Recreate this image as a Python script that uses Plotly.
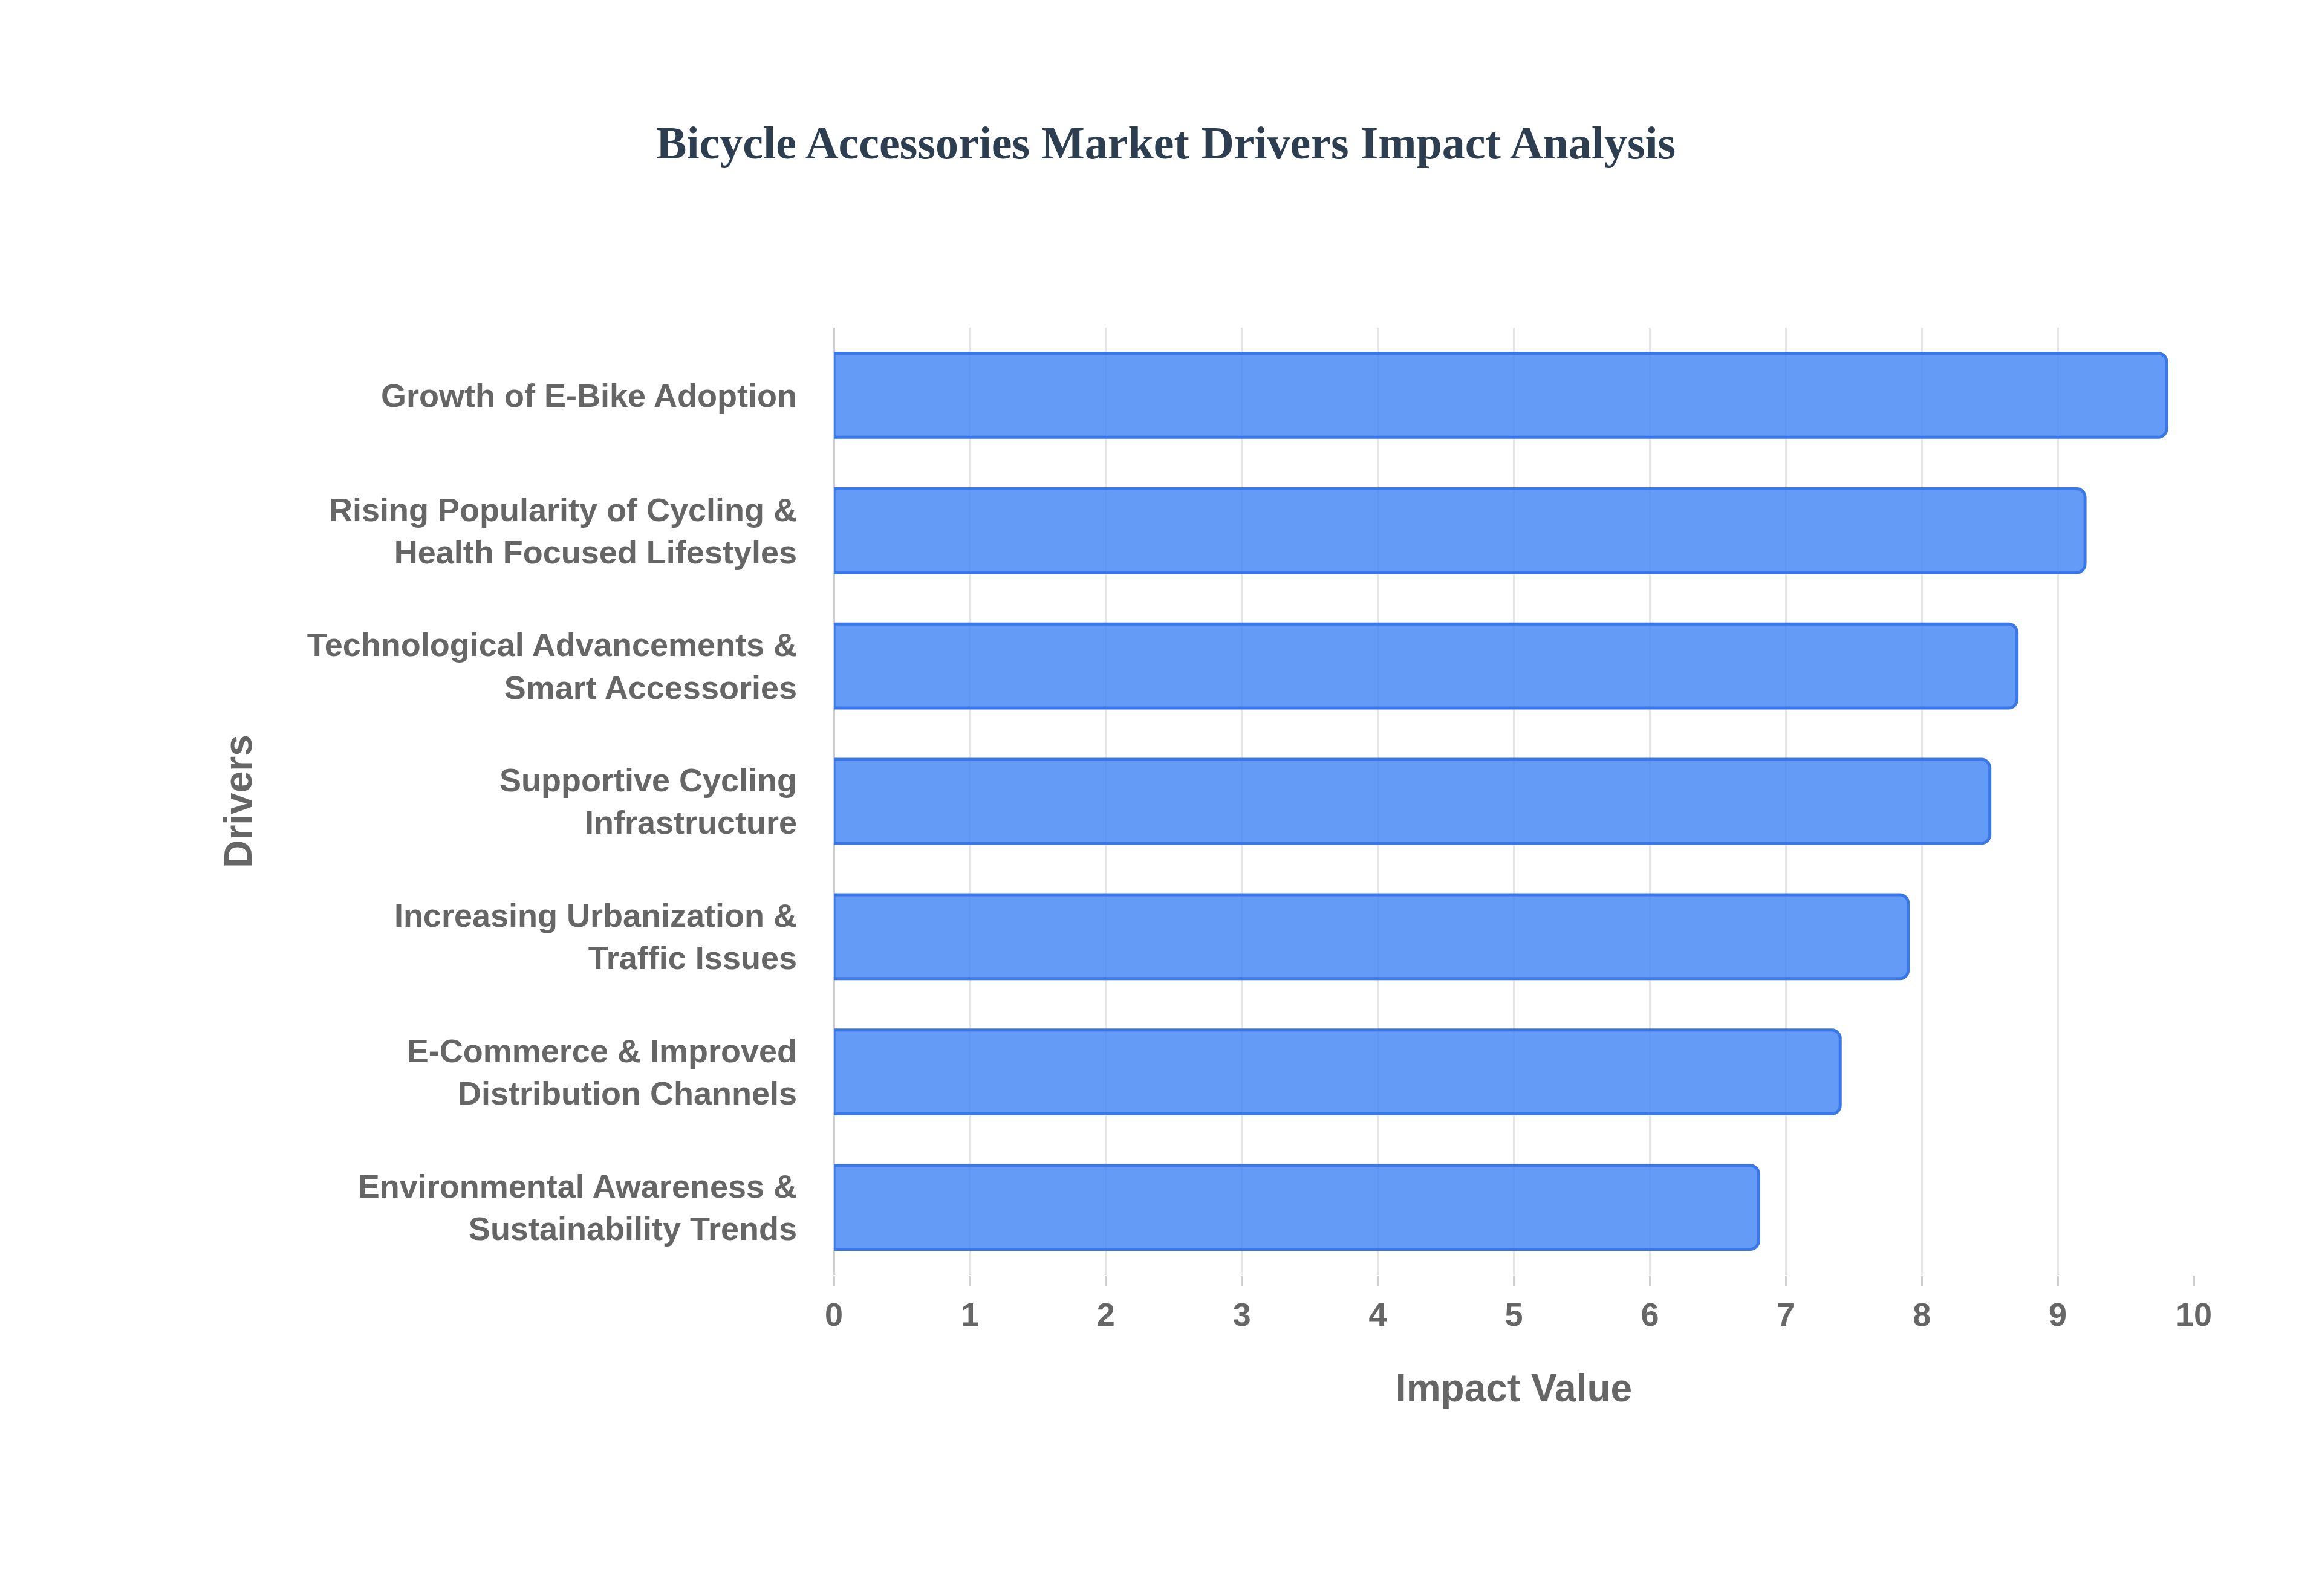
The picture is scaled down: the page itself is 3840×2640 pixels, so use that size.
import plotly.graph_objects as go

drivers = [
    "Growth of E-Bike Adoption",
    "Rising Popularity of Cycling &<br>Health Focused Lifestyles",
    "Technological Advancements &<br>Smart Accessories",
    "Supportive Cycling<br>Infrastructure",
    "Increasing Urbanization &<br>Traffic Issues",
    "E-Commerce & Improved<br>Distribution Channels",
    "Environmental Awareness &<br>Sustainability Trends",
]
impact = [9.8, 9.2, 8.7, 8.5, 7.9, 7.4, 6.8]

fig = go.Figure(go.Bar(
    x=impact, y=drivers, orientation="h",
    marker=dict(color="rgba(66,133,244,0.82)", line=dict(color="#3b78e7", width=5)),
    hoverinfo="x+y",
))
fig.update_layout(
    width=3840, height=2640,
    paper_bgcolor="white", plot_bgcolor="white",
    margin=dict(l=1371, r=220, t=534, b=539),
    barcornerradius=14, bargap=0.38,
    title=dict(text="<b>Bicycle Accessories Market Drivers Impact Analysis</b>",
               x=0.5, xanchor="center", y=0.914, yanchor="middle",
               font=dict(family="Liberation Serif", size=76, color="#2c3e50")),
    font=dict(family="Liberation Sans", color="#666666"),
    showlegend=False,
)
fig.update_xaxes(
    range=[0, 10], dtick=1, showgrid=True, gridcolor="#e6e6e6", gridwidth=3,
    zeroline=True, zerolinecolor="#d0d0d0", zerolinewidth=3,
    ticks="outside", ticklen=18, tickcolor="#d0d0d0", tickwidth=3,
    tickfont=dict(size=54, weight="bold", color="#666666"),
    title=dict(text="<b>Impact Value</b>", font=dict(size=64, color="#666666"), standoff=70),
)
fig.update_yaxes(
    autorange="reversed", showgrid=False, ticks="", ticklabelstandoff=60,
    tickfont=dict(size=54, weight="bold", color="#666666"),
    title=dict(text="<b>Drivers</b>", font=dict(size=64, color="#666666"), standoff=70),
)
fig.write_html("out.html")
